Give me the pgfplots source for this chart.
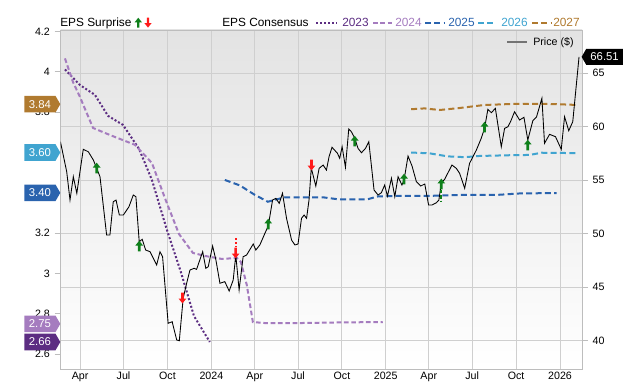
\documentclass[border=0pt]{standalone}
\usepackage{fontspec}
\setmainfont{Liberation Sans}
\usepackage{pgfplots}
\pgfplotsset{compat=1.18}
\usetikzlibrary{shapes.symbols}
\definecolor{c23}{HTML}{5C2D82}
\definecolor{c24}{HTML}{A57CBF}
\definecolor{c25}{HTML}{2A63AE}
\definecolor{c26}{HTML}{40A4D0}
\definecolor{c27}{HTML}{B07A2F}
\definecolor{cup}{HTML}{0E7F1A}
\definecolor{cdn}{HTML}{FF1A1A}
\definecolor{gridc}{HTML}{CFCFCF}
\definecolor{framec}{HTML}{BDBDBD}
\pgfdeclareplotmark{epsup}{%
  \pgfpathmoveto{\pgfqpoint{0pt}{4pt}}%
  \pgfpathlineto{\pgfqpoint{2.9pt}{0.4pt}}%
  \pgfpathlineto{\pgfqpoint{1pt}{0.4pt}}%
  \pgfpathlineto{\pgfqpoint{1pt}{-4pt}}%
  \pgfpathlineto{\pgfqpoint{-1pt}{-4pt}}%
  \pgfpathlineto{\pgfqpoint{-1pt}{0.4pt}}%
  \pgfpathlineto{\pgfqpoint{-2.9pt}{0.4pt}}%
  \pgfpathclose\pgfusepathqfill}
\pgfdeclareplotmark{epsdown}{%
  \pgfpathmoveto{\pgfqpoint{0pt}{-4pt}}%
  \pgfpathlineto{\pgfqpoint{2.9pt}{-0.4pt}}%
  \pgfpathlineto{\pgfqpoint{1pt}{-0.4pt}}%
  \pgfpathlineto{\pgfqpoint{1pt}{4pt}}%
  \pgfpathlineto{\pgfqpoint{-1pt}{4pt}}%
  \pgfpathlineto{\pgfqpoint{-1pt}{-0.4pt}}%
  \pgfpathlineto{\pgfqpoint{-2.9pt}{-0.4pt}}%
  \pgfpathclose\pgfusepathqfill}
\pgfplotsset{
  base/.style={at={(45.45pt,9.75pt)}, anchor=south west, scale only axis,
    width=391.05pt, height=254.25pt, xmin=2023.135, xmax=2026.126,
    /pgf/number format/assume math mode=true,
    tick label style={font=\fontsize{8}{9}\selectfont},
  },
  price/.style={ymin=37.34, ymax=69.02},
  eps/.style={ymin=2.526, ymax=4.208},
}
\begin{document}
\begin{tikzpicture}
\useasboundingbox (0,0) rectangle (480pt,286.5pt);
% background, grid, price ticks
\begin{axis}[base, price,
  axis background/.style={shade, top color=black!11, middle color=white, bottom color=white},
  axis line style={framec, line width=0.7pt},
  xmajorgrids, ymajorgrids, major grid style={gridc, line width=0.7pt},
  xtick={2023.247,2023.496,2023.748,2024,2024.249,2024.497,2024.749,2025,2025.247,2025.496,2025.748,2026},
  xticklabels={Apr,Jul,Oct,2024,Apr,Jul,Oct,2025,Apr,Jul,Oct,2026},
  xtick style={draw=none},
  ytick={40,45,50,55,60,65},
  ytick pos=right, yticklabel pos=right, ytick align=outside,
  ytick style={framec, line width=0.7pt}, major tick length=4.5pt,
  xticklabel style={anchor=base, yshift=-7.6pt, inner sep=0pt},
]
\addplot[draw=none, forget plot] coordinates {(2024,50)};
\end{axis}
% EPS consensus
\begin{axis}[base, eps,
  axis x line=none, axis y line*=left, axis line style={draw=none},
  ytick={2.6,2.8,3.0,3.2,3.4,3.6,3.8,4.0,4.2},
  yticklabels={2.6,2.8,3,3.2,,,3.8,4,4.2},
  ytick align=outside, ytick style={framec, line width=0.7pt}, major tick length=4.5pt,
]
\addplot[c23, line width=1.5pt, dash pattern=on 1.5pt off 1.5pt] coordinates {
(2023.160,4.012) (2023.246,3.935) (2023.332,3.886) (2023.407,3.782) (2023.493,3.737)
(2023.585,3.618) (2023.659,3.464) (2023.745,3.216) (2023.825,3.007) (2023.900,2.789) (2023.991,2.660)};
\addplot[c24, line width=1.5pt, dash pattern=on 3.5pt off 2pt] coordinates {
(2023.160,4.067) (2023.206,3.950) (2023.246,3.876) (2023.321,3.722) (2023.418,3.687)
(2023.562,3.638) (2023.659,3.548) (2023.733,3.375) (2023.814,3.196) (2023.894,3.102)
(2023.963,3.087) (2024.060,3.072) (2024.146,3.077) (2024.169,3.057) (2024.203,2.943)
(2024.238,2.759) (2024.307,2.754) (2024.507,2.754) (2024.736,2.757) (2024.983,2.759)};
\addplot[c25, line width=1.5pt, dash pattern=on 4.5pt off 2.5pt] coordinates {
(2024.077,3.464) (2024.163,3.437) (2024.249,3.390) (2024.324,3.356) (2024.421,3.378)
(2024.639,3.378) (2024.736,3.367) (2024.891,3.367) (2024.954,3.382) (2025.080,3.385)
(2025.252,3.385) (2025.453,3.390) (2025.642,3.390) (2025.768,3.397) (2025.980,3.399)};
\addplot[c26, line width=1.5pt, dash pattern=on 4.5pt off 2.5pt] coordinates {
(2025.146,3.600) (2025.252,3.596) (2025.355,3.581) (2025.453,3.577) (2025.539,3.583)
(2025.728,3.587) (2025.825,3.588) (2025.894,3.599) (2026.100,3.597)};
\addplot[c27, line width=1.5pt, dash pattern=on 4.5pt off 2.5pt] coordinates {
(2025.146,3.815) (2025.223,3.819) (2025.309,3.811) (2025.424,3.821) (2025.567,3.836)
(2025.728,3.841) (2025.883,3.842) (2025.980,3.840) (2026.100,3.836)};
\coordinate (t27) at (axis cs:2023.135,3.84);
\coordinate (t26) at (axis cs:2023.135,3.60);
\coordinate (t25) at (axis cs:2023.135,3.40);
\coordinate (t24) at (axis cs:2023.135,2.75);
\coordinate (t23) at (axis cs:2023.135,2.66);
\end{axis}
% price
\begin{axis}[base, price, hide axis]
\addplot[black, line width=0.65pt] coordinates {
(2023.134,58.58) (2023.170,55.78) (2023.189,53.13) (2023.208,55.31) (2023.228,53.76)
(2023.265,57.87) (2023.294,57.64) (2023.323,56.87) (2023.361,55.31) (2023.399,49.86)
(2023.418,49.86) (2023.437,52.97) (2023.453,53.13) (2023.472,51.73) (2023.495,51.73)
(2023.527,52.50) (2023.552,53.60) (2023.567,53.44) (2023.586,49.23) (2023.603,49.46)
(2023.623,48.46) (2023.648,48.30) (2023.686,47.06) (2023.705,48.30) (2023.720,47.83)
(2023.752,41.61) (2023.775,41.76) (2023.801,40.05) (2023.816,39.98) (2023.838,43.94)
(2023.858,45.35) (2023.877,46.59) (2023.901,46.75) (2023.915,46.65) (2023.950,48.30)
(2023.968,46.75) (2023.982,46.90) (2024.007,48.83) (2024.026,47.52) (2024.049,45.35)
(2024.077,45.50) (2024.102,44.63) (2024.125,45.65) (2024.140,47.99) (2024.159,44.72)
(2024.182,47.83) (2024.202,47.99) (2024.240,49.02) (2024.255,48.46) (2024.278,48.93)
(2024.307,50.02) (2024.326,50.70) (2024.351,53.13) (2024.370,53.29) (2024.389,52.82)
(2024.408,53.76) (2024.431,51.42) (2024.460,49.39) (2024.479,48.93) (2024.497,49.02)
(2024.517,51.42) (2024.532,51.73) (2024.546,51.42) (2024.560,53.13) (2024.573,56.12)
(2024.599,54.44) (2024.618,56.09) (2024.641,56.40) (2024.660,55.93) (2024.675,57.18)
(2024.692,58.06) (2024.723,57.50) (2024.736,57.03) (2024.750,58.11) (2024.769,56.19)
(2024.788,59.77) (2024.803,59.51) (2024.822,58.93) (2024.841,57.96) (2024.861,57.55)
(2024.884,57.96) (2024.903,58.58) (2024.933,54.07) (2024.956,53.60) (2024.975,53.81)
(2024.994,54.53) (2025.010,53.50) (2025.033,55.16) (2025.052,53.44) (2025.071,55.31)
(2025.093,54.53) (2025.105,55.00) (2025.128,57.24) (2025.151,56.31) (2025.176,54.84)
(2025.201,54.44) (2025.224,54.63) (2025.246,52.66) (2025.265,52.66) (2025.291,52.88)
(2025.305,53.13) (2025.319,54.75) (2025.338,55.07) (2025.380,56.40) (2025.405,56.09)
(2025.424,55.63) (2025.453,54.22) (2025.481,56.56) (2025.520,57.80) (2025.548,58.90)
(2025.567,59.83) (2025.586,61.61) (2025.606,61.29) (2025.629,61.70) (2025.663,58.11)
(2025.682,59.83) (2025.701,59.98) (2025.716,60.45) (2025.739,61.38) (2025.768,60.61)
(2025.793,60.86) (2025.815,58.74) (2025.844,60.54) (2025.865,60.89) (2025.896,62.64)
(2025.911,58.43) (2025.940,59.27) (2025.974,59.05) (2026.007,57.87) (2026.026,60.92)
(2026.050,59.61) (2026.073,60.45) (2026.109,66.51)};
\addplot[cdn, line width=1.5pt, dash pattern=on 1.5pt off 1.5pt] coordinates {(2024.139,49.58) (2024.139,48.70)};
\addplot[cup, line width=1.5pt, dash pattern=on 2.5pt off 1.5pt] coordinates {(2025.319,54.07) (2025.319,52.94)};
\addplot[only marks, mark=epsup, cup, mark options={fill=cup, draw=none}] coordinates {
(2023.342,56.12) (2023.586,48.83) (2024.326,50.89) (2024.822,58.64) (2025.105,55.09)
(2025.319,54.63) (2025.567,59.95) (2025.815,58.27)};
\addplot[only marks, mark=epsdown, cdn, mark options={fill=cdn, draw=none}] coordinates {
(2023.834,43.97) (2024.139,48.18) (2024.574,56.40)};
\coordinate (tp) at (axis cs:2026.126,66.51);
\end{axis}
% value tags
\tikzset{tag/.style={signal, signal to=east, signal pointer angle=120, text=white,
  font=\fontsize{8.5}{9}\selectfont, minimum height=12.5pt, minimum width=27pt,
  inner sep=1pt, anchor=east}}
\node[tag, fill=c27] at (t27) {3.84};
\node[tag, fill=c26] at (t26) {3.60};
\node[tag, fill=c25] at (t25) {3.40};
\node[tag, fill=c24] at (t24) {2.75};
\node[tag, fill=c23] at (t23) {2.66};
\node[signal, signal to=west, signal pointer angle=120, fill=black, text=white,
  font=\fontsize{8.5}{9}\selectfont, minimum height=12pt, minimum width=31pt,
  inner sep=1pt, anchor=west] at ([xshift=-0.5pt]tp) {66.51};
% legend
\tikzset{lg/.style={anchor=base west, inner sep=0pt, font=\fontsize{8.9}{10}\selectfont}}
\node[lg] at (45pt,266.5pt) {EPS Surprise};
\fill[cup] (103.7pt,273.2pt) -- (106.4pt,269.8pt) -- (104.6pt,269.8pt) -- (104.6pt,265.8pt) -- (102.8pt,265.8pt) -- (102.8pt,269.8pt) -- (101pt,269.8pt) -- cycle;
\fill[cdn] (111pt,265.8pt) -- (113.7pt,269.2pt) -- (111.9pt,269.2pt) -- (111.9pt,273.2pt) -- (110.1pt,273.2pt) -- (110.1pt,269.2pt) -- (108.3pt,269.2pt) -- cycle;
\node[lg] at (166.5pt,266.5pt) {EPS Consensus};
\draw[c23, line width=1.5pt, dash pattern=on 1.5pt off 1.5pt] (237pt,269.5pt) -- (253pt,269.5pt);
\node[lg, text=c23] at (256.5pt,266.5pt) {2023};
\draw[c24, line width=1.5pt, dash pattern=on 3.5pt off 2pt] (279.75pt,269.5pt) -- (294pt,269.5pt);
\node[lg, text=c24] at (296.25pt,266.5pt) {2024};
\draw[c25, line width=1.5pt, dash pattern=on 4.5pt off 2.5pt] (318.75pt,269.5pt) -- (333.75pt,269.5pt);
\node[lg, text=c25] at (336pt,266.5pt) {2025};
\draw[c26, line width=1.5pt, dash pattern=on 4.5pt off 2.5pt] (358.5pt,269.5pt) -- (372pt,269.5pt);
\node[lg, text=c26] at (375.75pt,266.5pt) {2026};
\draw[c27, line width=1.5pt, dash pattern=on 4.5pt off 2.5pt] (399pt,269.5pt) -- (413.25pt,269.5pt);
\node[lg, text=c27] at (414.75pt,266.5pt) {2027};
\draw[black!55, line width=1.5pt] (380.25pt,255pt) -- (395.25pt,255pt);
\node[lg, font=\fontsize{8}{9}\selectfont] at (399.75pt,252.2pt) {Price (\$)};
\end{tikzpicture}
\end{document}
